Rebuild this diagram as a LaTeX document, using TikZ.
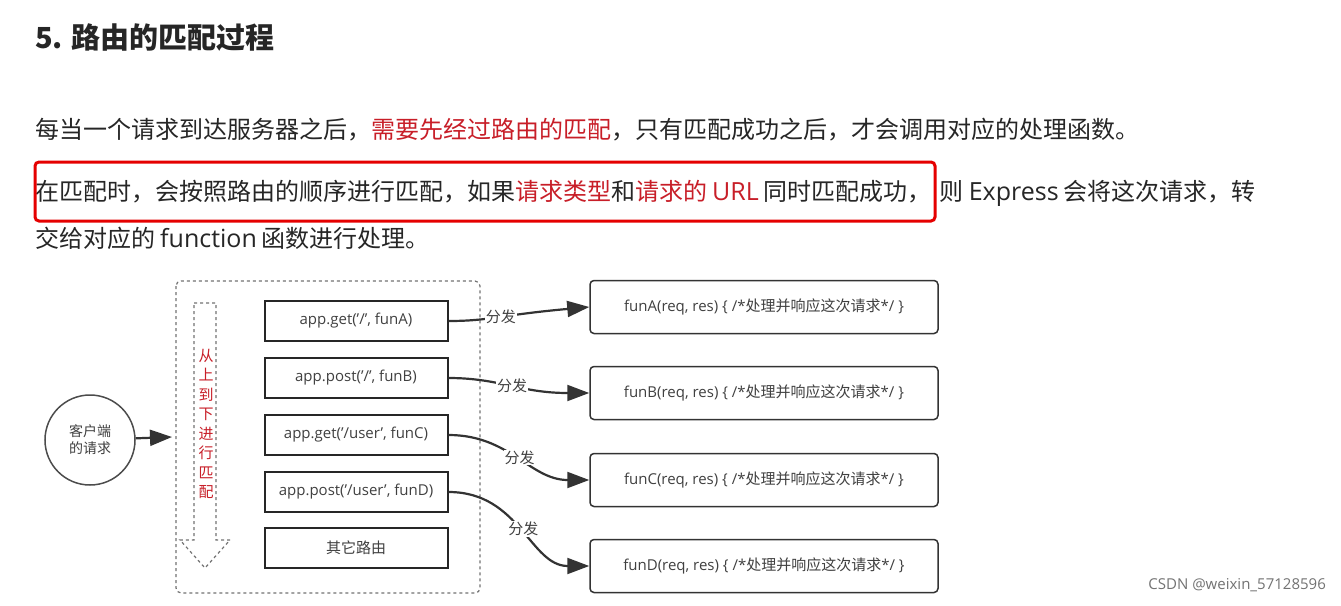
\documentclass[tikz,border=0pt]{standalone}
\usepackage{fontspec}
\setmainfont{Open Sans}
\newfontfamily\cj{Noto Sans CJK SC}
\usetikzlibrary{arrows.meta}
\definecolor{hl}{RGB}{200,30,40}
\newcommand{\q}{\char"0027\relax}
\newcommand{\lat}[1]{\hspace{5pt}{\fontsize{25}{28}\selectfont\rmfamily #1}\hspace{5pt}}
\begin{document}
\begin{tikzpicture}[x=1pt,y=-1pt,
  body/.style={anchor=west,inner sep=0,font=\fontsize{24}{28}\selectfont\cj,text=black!85},
  rt/.style={draw=black!85,line width=2pt,minimum width=183pt,minimum height=40pt,inner sep=0,font=\fontsize{15}{16}\selectfont,text=black!75},
  fn/.style={draw=black!80,line width=1.5pt,rounded corners=4pt,minimum width=348pt,minimum height=53pt,inner sep=0,font=\fontsize{15}{16}\selectfont,text=black!75},
  arr/.style={-{Triangle[length=22pt,width=16pt]},line width=2.2pt,draw=black!80},
  lab/.style={fill=white,inner sep=1pt,font=\fontsize{15}{16}\selectfont\cj,text=black!75}]
\useasboundingbox[fill=white] (0,0) rectangle (1341,605);
\node[body,font=\fontsize{29}{32}\selectfont\cj\bfseries] (title) at (35,38) {5. 路由的匹配过程};
\node[body] (l1) at (35,130) {每当一个请求到达服务器之后，\textcolor{hl}{需要先经过路由的匹配}，只有匹配成功之后，才会调用对应的处理函数。};
\node[body] (l2) at (35,193) {在匹配时，会按照路由的顺序进行匹配，如果\textcolor{hl}{请求类型}和\textcolor{hl}{请求的\lat{URL}}同时匹配成功，\hspace{8pt}则\lat{Express}会将这次请求，转};
\node[body] (l3) at (35,238) {交给对应的\lat{function}函数进行处理。};
\draw[red!90!black,line width=3pt,rounded corners=4pt] (35,162) rectangle (935,221);
% diagram
\node[draw=black!70,line width=1.5pt,circle,minimum size=90pt,inner sep=0,align=center,font=\fontsize{14}{17}\selectfont\cj,text=black!75] (cl) at (90,440) {客户端\\的请求};
\draw[dashed,draw=black!55,line width=1.2pt,rounded corners=5pt] (176,281) rectangle (480,593);
\coordinate (in) at (172,437);
\draw[arr] (cl) -- (in);
\draw[dashed,draw=black!55,line width=1.2pt] (194,303) -- (216,303) -- (216,540) -- (230,540) -- (205,568) -- (180,540) -- (194,540) -- cycle;
\node[inner sep=0,align=center,text=hl,font=\fontsize{15}{19.5}\selectfont\cj] (vt) at (206,424) {从\\上\\到\\下\\进\\行\\匹\\配};
\node[rt] (ra) at (356,321) {app.get(\q/\q, funA)};
\node[rt] (rb) at (356,378) {app.post(\q/\q, funB)};
\node[rt] (rc) at (356,435) {app.get(\q/user\q, funC)};
\node[rt] (rd) at (356,492) {app.post(\q/user\q, funD)};
\node[rt,font=\fontsize{15}{16}\selectfont\cj] (re) at (356,548) {其它路由};
\node[fn] (fa) at (764,307) {funA(req, res) \{ /*{\cj 处理并响应这次请求}*/ \}};
\node[fn] (fb) at (764,393) {funB(req, res) \{ /*{\cj 处理并响应这次请求}*/ \}};
\node[fn] (fc) at (764,480) {funC(req, res) \{ /*{\cj 处理并响应这次请求}*/ \}};
\node[fn] (fd) at (764,566) {funD(req, res) \{ /*{\cj 处理并响应这次请求}*/ \}};
\draw[arr] (ra.east) .. controls (490,321) and (500,315) .. node[lab,pos=0.5]{分发} (fa.west);
\draw[arr] (rb.east) .. controls (500,378) and (520,393) .. node[lab,pos=0.5]{分发} (fb.west);
\draw[arr] (rc.east) .. controls (510,435) and (530,480) .. node[lab,pos=0.5]{分发} (fc.west);
\draw[arr] (rd.east) .. controls (520,492) and (530,566) .. node[lab,pos=0.5]{分发} (fd.west);
\node[anchor=east,inner sep=0,text=black!55,font=\fontsize{15}{18}\selectfont] (wm) at (1326,585) {CSDN @weixin\_57128596};
\end{tikzpicture}
\end{document}
